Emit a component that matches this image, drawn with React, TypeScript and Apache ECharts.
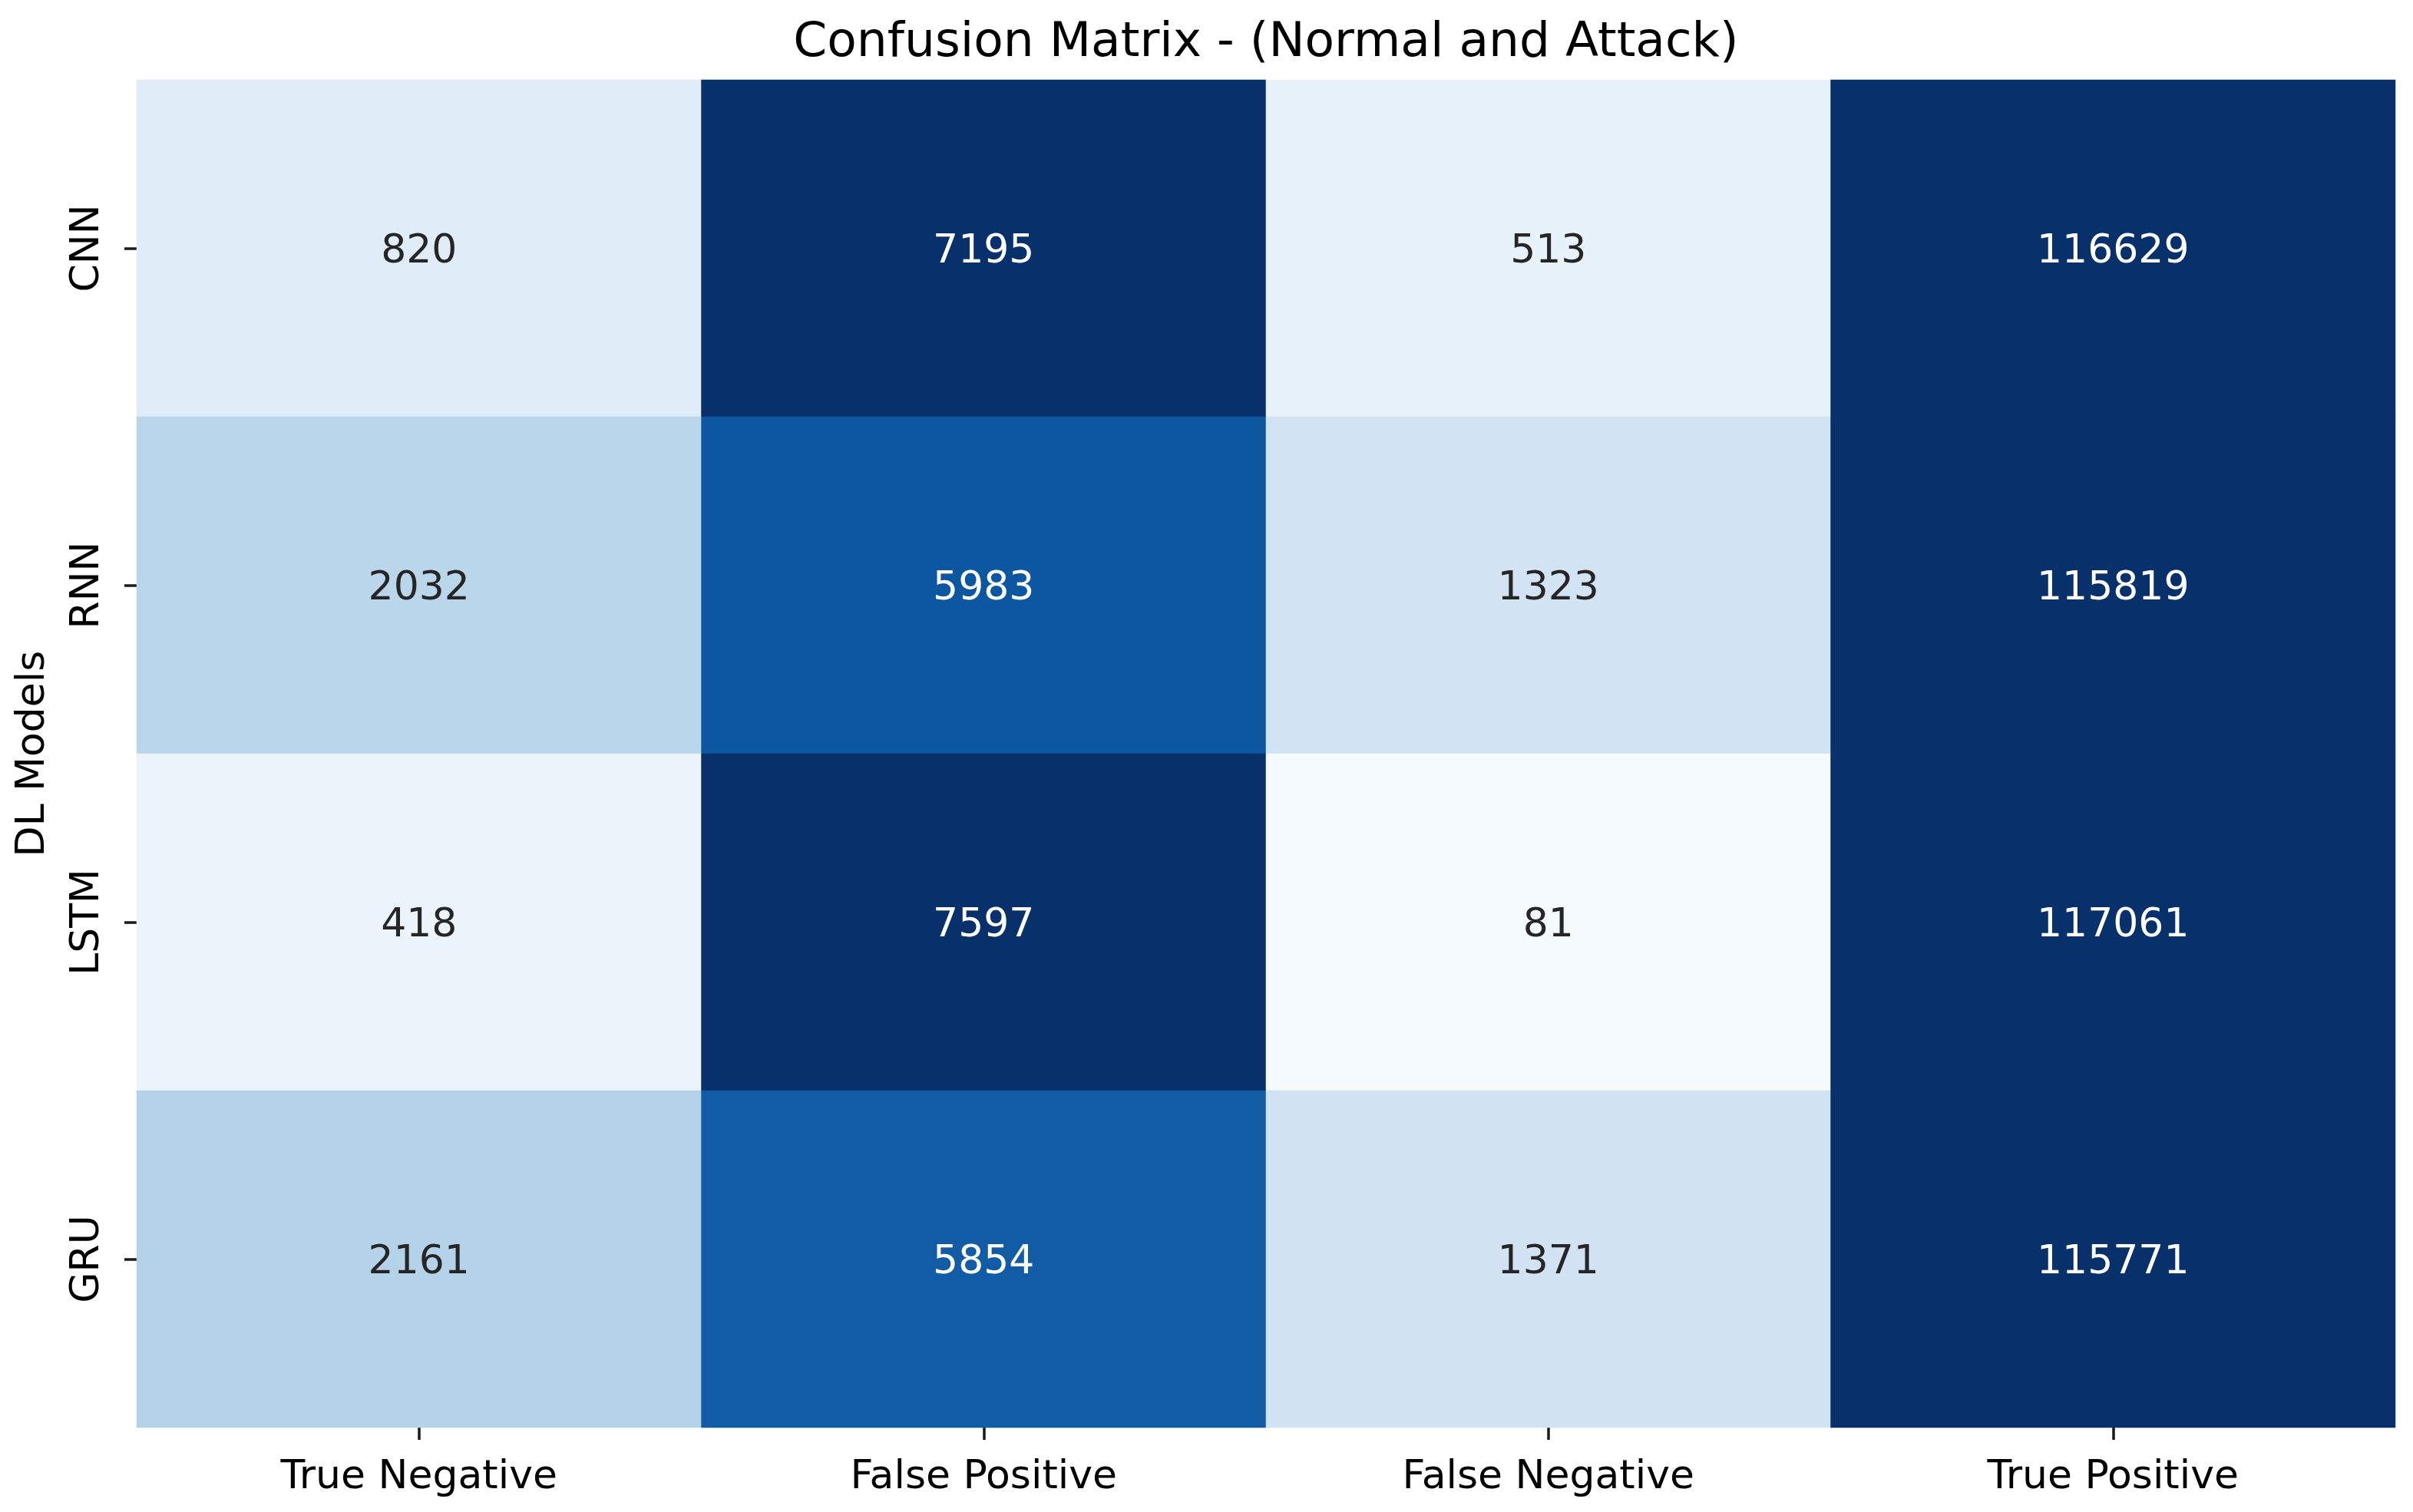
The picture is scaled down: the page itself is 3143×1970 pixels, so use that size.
import React, { useEffect, useRef } from "react";
import * as echarts from "echarts";

const metrics = ["True Negative", "False Positive", "False Negative", "True Positive"];
const models = ["CNN", "RNN", "LSTM", "GRU"];
const cnnValues = [820, 7195, 513, 116629];
const rnnValues = [2032, 5983, 1323, 115819];
const lstmValues = [418, 7597, 81, 117061];
const gruValues = [2161, 5854, 1371, 115771];
const modelValues = [cnnValues, rnnValues, lstmValues, gruValues];

const colorMin = 0;
const colorMax = 7040;
const blues = ["#f7fbff", "#deebf7", "#c6dbef", "#9ecae1", "#6baed6", "#4292c6", "#2171b5", "#08519c", "#08306b"];

const FONT = "'DejaVu Sans', 'Noto Sans', sans-serif";

export default function App() {
  const ref = useRef<HTMLDivElement>(null);
  useEffect(() => {
    document.body.style.margin = "0";
    if (!ref.current) return;
    const chart = echarts.init(ref.current, undefined, { renderer: "svg" });
    const data: any[] = [];
    modelValues.forEach((row, yi) => {
      row.forEach((v, xi) => {
        const dark = Math.min(v, colorMax) / colorMax > 0.55;
        data.push({
          value: [xi, yi, v],
          label: { color: dark ? "#ffffff" : "#262626" },
        });
      });
    });
    chart.setOption({
      animation: false,
      backgroundColor: "#ffffff",
      title: {
        text: "Confusion Matrix - (Normal and Attack)",
        left: 1649,
        top: 20,
        padding: 0,
        textAlign: "center",
        textStyle: { fontFamily: FONT, fontSize: 63, fontWeight: "normal", color: "#000000" },
      },
      grid: { left: 178, right: 23, top: 104, bottom: 110, containLabel: false },
      xAxis: {
        type: "category",
        data: metrics,
        axisLine: { show: false },
        axisTick: { show: true, alignWithLabel: true, interval: 0, length: 16, lineStyle: { color: "#1a1a1a", width: 3.5 } },
        axisLabel: { interval: 0, margin: 35, fontFamily: FONT, fontSize: 52, color: "#000000" },
        splitLine: { show: false },
        splitArea: { show: false },
      },
      yAxis: {
        type: "category",
        data: models,
        inverse: true,
        name: "DL Models",
        nameLocation: "middle",
        nameRotate: 90,
        nameGap: 113,
        nameTextStyle: { fontFamily: FONT, fontSize: 52, color: "#000000" },
        axisLine: { show: false },
        axisTick: { show: true, alignWithLabel: true, interval: 0, length: 16, lineStyle: { color: "#1a1a1a", width: 3.5 } },
        axisLabel: { interval: 0, rotate: 90, margin: 42, fontFamily: FONT, fontSize: 52, color: "#000000" },
        splitLine: { show: false },
        splitArea: { show: false },
      },
      visualMap: {
        show: false,
        type: "continuous",
        dimension: 2,
        min: colorMin,
        max: colorMax,
        inRange: { color: blues },
      },
      series: [
        {
          type: "heatmap",
          data,
          itemStyle: { borderWidth: 0 },
          label: { show: true, fontFamily: FONT, fontSize: 52 },
          emphasis: { disabled: true },
        },
      ],
    });
    return () => chart.dispose();
  }, []);
  return <div ref={ref} style={{ width: 3143, height: 1970 }} />;
}
